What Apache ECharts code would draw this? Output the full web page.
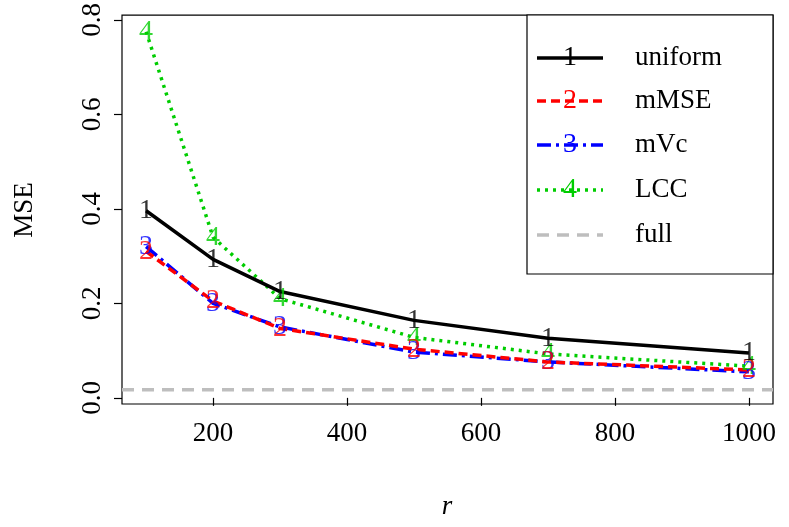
<!DOCTYPE html>
<html><head><meta charset="utf-8">
<script src="https://cdn.jsdelivr.net/npm/echarts@6/dist/echarts.min.js"></script>
<style>html,body{margin:0;padding:0;background:#fff}#c{width:789px;height:527px}</style>
</head><body><div id="c"></div>
<script>
const rValues = [100, 200, 300, 500, 700, 1000];
const seriesNames = ['uniform', 'mMSE', 'mVc', 'LCC'];
const uniform = [0.396, 0.293, 0.225, 0.164, 0.126, 0.095];
const mMSE = [0.310, 0.205, 0.147, 0.103, 0.076, 0.059];
const mVc = [0.320, 0.200, 0.150, 0.097, 0.076, 0.055];
const LCC = [0.775, 0.340, 0.210, 0.128, 0.093, 0.067];
const fullValue = 0.017;
const xTicks = [200, 400, 600, 800, 1000];
const yTicks = [0.0, 0.2, 0.4, 0.6, 0.8];
const legendLabels = ['uniform', 'mMSE', 'mVc', 'LCC', 'full'];

const font = 'Liberation Serif, DejaVu Serif, serif';
const colors = ['#000000', '#FF0000', '#0000FF', '#00CD00', '#BEBEBE'];
const lineTypes = ['solid', [9, 5], [14, 5, 3, 5], [3, 5], [12, 8]];
const dataSets = [uniform, mMSE, mVc, LCC];

const series = [];
dataSets.forEach((d, i) => {
  const pts = d.map((v, j) => [rValues[j], v]);
  series.push({
    type: 'line', name: seriesNames[i], data: pts, symbol: 'none',
    lineStyle: {color: colors[i], type: lineTypes[i], width: 3.5}, z: 10 - i
  });
  series.push({
    type: 'scatter', name: seriesNames[i] + '_pts', data: pts, symbolSize: 1,
    itemStyle: {color: 'rgba(0,0,0,0)'}, z: 20 - i,
    label: {show: true, position: 'inside', formatter: String(i + 1), color: colors[i],
      fontFamily: font, fontSize: 28}
  });
});
series.push({
  type: 'line', name: 'full', data: [[64, fullValue], [1036, fullValue]], symbol: 'none',
  lineStyle: {color: colors[4], type: lineTypes[4], width: 3.5}, z: 1
});

const graphic = [{type: 'rect', shape: {x: 527, y: 15, width: 246, height: 259},
  style: {fill: '#fff', stroke: '#000', lineWidth: 1.2}, z: 100}];
const rowY = [58, 101, 145, 190, 235];
legendLabels.forEach((t, i) => {
  const ld = lineTypes[i] === 'solid' ? null : lineTypes[i];
  graphic.push({type: 'line', shape: {x1: 537, y1: rowY[i], x2: 603, y2: rowY[i]},
    style: {stroke: colors[i], lineWidth: 3.5, lineDash: ld}, z: 101});
  if (i < 4) graphic.push({type: 'text', x: 570, y: rowY[i], z: 102,
    style: {text: String(i + 1), fill: colors[i], font: '28px ' + font, textAlign: 'center', textVerticalAlign: 'middle'}});
  graphic.push({type: 'text', x: 635, y: rowY[i], z: 102,
    style: {text: t, fill: '#000', font: '27px ' + font, textAlign: 'left', textVerticalAlign: 'middle'}});
});
graphic.push({type: 'text', x: 25, y: 210, rotation: Math.PI / 2, z: 102,
  style: {text: 'MSE', fill: '#000', font: '27px ' + font, textAlign: 'center', textVerticalAlign: 'middle'}});
graphic.push({type: 'text', x: 447, y: 507, z: 102,
  style: {text: 'r', fill: '#000', font: 'italic 27px ' + font, textAlign: 'center', textVerticalAlign: 'middle'}});

const chart = echarts.init(document.getElementById('c'));
chart.setOption({
  animation: false, backgroundColor: '#fff',
  grid: {left: 122, right: 16, top: 15, bottom: 123, show: true, borderColor: '#000', borderWidth: 1.2},
  xAxis: {type: 'value', min: 64, max: 1036,
    axisLine: {show: false}, splitLine: {show: false},
    axisTick: {show: true, length: 8, customValues: xTicks, lineStyle: {color: '#000', width: 1.2}},
    axisLabel: {customValues: xTicks, fontFamily: font, fontSize: 27, color: '#000', margin: 16,
      formatter: v => String(v)}},
  yAxis: {type: 'value', min: -0.013, max: 0.81,
    axisLine: {show: false}, splitLine: {show: false},
    axisTick: {show: true, length: 8, customValues: yTicks, lineStyle: {color: '#000', width: 1.2}},
    axisLabel: {customValues: yTicks, rotate: 90, fontFamily: font, fontSize: 27, color: '#000', margin: 16,
      formatter: v => v.toFixed(1)}},
  series: series, graphic: graphic
});
</script></body></html>
